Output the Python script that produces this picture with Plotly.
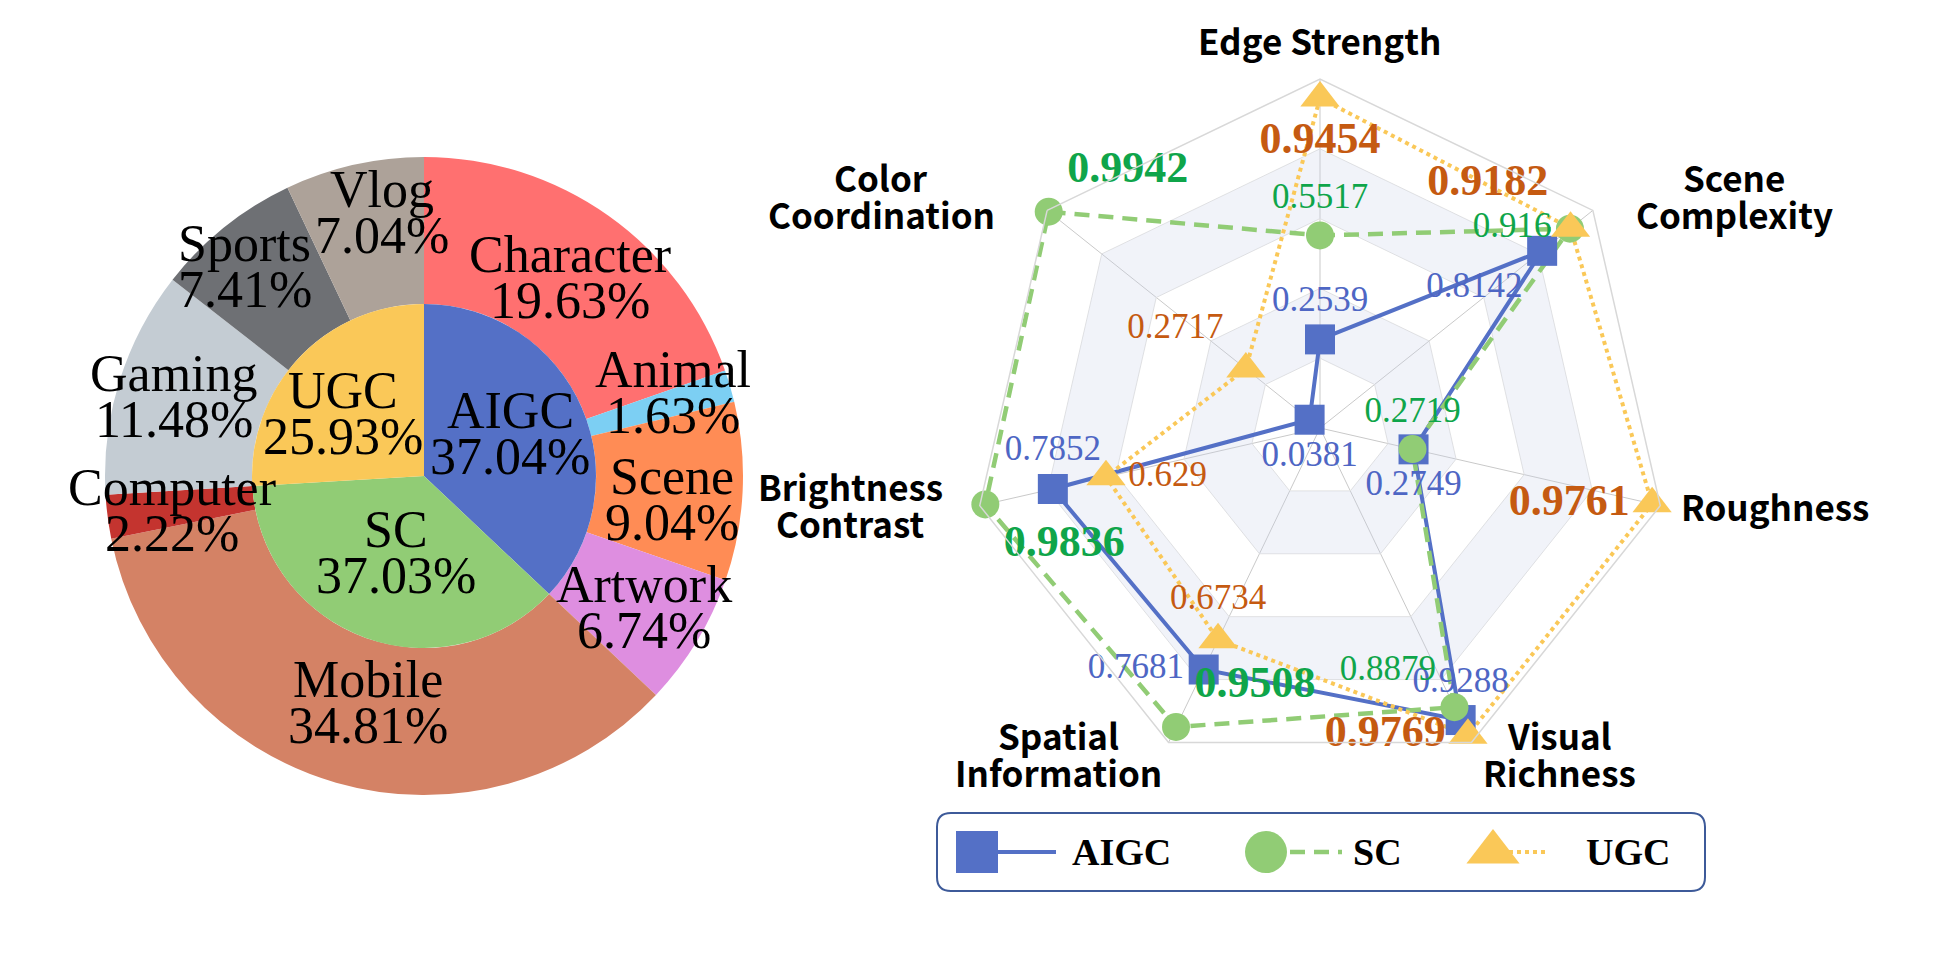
import math
import plotly.graph_objects as go

# ---------------- data ----------------
GROUPS = ["AIGC", "SC", "UGC"]
GROUP_PCT = [37.04, 37.03, 25.93]
GROUP_COLORS = ["#5470C6", "#91CC75", "#FAC858"]

SUBCATS = ["Character", "Animal", "Scene", "Artwork", "Mobile", "Computer", "Gaming", "Sports", "Vlog"]
SUBCAT_PCT = [19.63, 1.63, 9.04, 6.74, 34.81, 2.22, 11.48, 7.41, 7.04]
SUBCAT_COLORS = ["#FF7070", "#7CCFF3", "#FF8C55", "#DE8EE0", "#D48265",
                 "#C4342F", "#C4CCD3", "#6E7074", "#ADA299"]

METRICS = ["Edge Strength", "Scene Complexity", "Roughness", "Visual Richness",
           "Spatial Information", "Brightness Contrast", "Color Coordination"]
SERIES = ["AIGC", "SC", "UGC"]
AIGC_VALUES = [0.2539, 0.8142, 0.2749, 0.9288, 0.7681, 0.7852, 0.0381]
SC_VALUES = [0.5517, 0.916, 0.2719, 0.8879, 0.9508, 0.9836, 0.9942]
UGC_VALUES = [0.9454, 0.9182, 0.9761, 0.9769, 0.6734, 0.629, 0.2717]
RING_LEVELS = [0.2, 0.4, 0.6, 0.8, 1.0]

# ---------------- layout geometry / styles ----------------
W, H = 1940, 968
PIE_CX, PIE_CY, PIE_R, PIE_RIN = 424, 476, 319, 172
RAD_CX, RAD_CY, RAD_R = 1320, 428, 349
SERIF = "Liberation Serif, Times New Roman, serif"
SANS = "Noto Sans CJK SC, Noto Sans, sans-serif"

# small pixel nudges for pie labels (label placement styling)
PIE_NUDGE = {
    "Character": (-1, 10), "Animal": (4, -12), "Scene": (-7, 11), "Artwork": (2, -1),
    "Mobile": (14, -19), "Computer": (1, 2), "Gaming": (-7, -4), "Sports": (-20, -10),
    "Vlog": (14, -15), "AIGC": (-1, -5), "SC": (4, -13), "UGC": (-12, 3),
}


def px(x):
    return x / W


def py(y):
    return 1 - y / H


fig = go.Figure()
annotations = []

# ---------------- nested pie ----------------
fig.add_trace(go.Pie(
    labels=SUBCATS, values=SUBCAT_PCT, hole=PIE_RIN / PIE_R, sort=False,
    direction="clockwise", rotation=0, textinfo="none",
    marker=dict(colors=SUBCAT_COLORS, line=dict(width=0)),
    domain=dict(x=[px(PIE_CX - PIE_R), px(PIE_CX + PIE_R)],
                y=[py(PIE_CY + PIE_R), py(PIE_CY - PIE_R)]),
    showlegend=False, hoverinfo="label+percent"))
fig.add_trace(go.Pie(
    labels=GROUPS, values=GROUP_PCT, sort=False,
    direction="clockwise", rotation=0, textinfo="none",
    marker=dict(colors=GROUP_COLORS, line=dict(width=0)),
    domain=dict(x=[px(PIE_CX - PIE_RIN), px(PIE_CX + PIE_RIN)],
                y=[py(PIE_CY + PIE_RIN), py(PIE_CY - PIE_RIN)]),
    showlegend=False, hoverinfo="label+percent"))


def pie_labels(names, pcts, radius):
    total = sum(pcts)
    cum = 0.0
    for name, p in zip(names, pcts):
        mid = (cum + p / 2) / total * 2 * math.pi
        cum += p
        ndx, ndy = PIE_NUDGE.get(name, (0, 0))
        x = PIE_CX + radius * math.sin(mid) + ndx
        y = PIE_CY - radius * math.cos(mid) + ndy
        for txt, dy in ((name, -23), (f"{p:.2f}%", 23)):
            annotations.append(dict(
                x=px(x), y=py(y + dy), xref="paper", yref="paper",
                text=txt, showarrow=False, xanchor="center", yanchor="middle",
                font=dict(family=SERIF, size=52, color="black")))


pie_labels(SUBCATS, SUBCAT_PCT, 255)
pie_labels(GROUPS, GROUP_PCT, 95)

# ---------------- radar ----------------
closed_theta = METRICS + [METRICS[0]]

# alternating shaded bands
for i in range(len(RING_LEVELS) - 1):
    if i % 2 == 0:
        outer = RING_LEVELS[i + 1]
        inner = RING_LEVELS[i]
        fig.add_trace(go.Scatterpolar(
            r=[outer] * len(closed_theta) + [inner] * len(closed_theta),
            theta=closed_theta + closed_theta[::-1],
            mode="lines", fill="toself", fillcolor="rgba(200,210,232,0.26)",
            line=dict(width=0), hoverinfo="skip", showlegend=False))

series_vals = [AIGC_VALUES, SC_VALUES, UGC_VALUES]
line_colors = ["#5470C6", "#91CC75", "#FAC858"]
text_colors = ["#4E66C4", "#0FA54A", "#C55A11"]
dashes = ["solid", "15px,9px", "4px,4px"]
line_widths = [4, 4.5, 4]
symbols = ["square", "circle", "triangle-up"]
msizes = [30, 28, 34]
text_pos = [
    ["top center", "bottom left", "bottom center", "top center", "middle left", "top center", "bottom center"],
    ["top center", "middle left", "top center", "top left", "top right", "bottom right", "top right"],
    ["bottom center", "top left", "middle left", "middle left", "top center", "middle right", "top left"],
]
axis_max = [max(v[k] for v in series_vals) for k in range(len(METRICS))]

for s, vals in enumerate(series_vals):
    fig.add_trace(go.Scatterpolar(
        r=vals + [vals[0]], theta=closed_theta, mode="lines",
        line=dict(color=line_colors[s], width=line_widths[s], dash=dashes[s]),
        hoverinfo="skip", showlegend=False))
for s, vals in enumerate(series_vals):
    texts, sizes = [], []
    for k, v in enumerate(vals):
        if v == axis_max[k]:
            texts.append(f"<b>{v:g}</b>")
            sizes.append(44)
        else:
            texts.append(f"{v:g}")
            sizes.append(35)
    fig.add_trace(go.Scatterpolar(
        r=vals, theta=METRICS, mode="markers+text",
        marker=dict(symbol=symbols[s], size=msizes[s], color=line_colors[s], line=dict(width=0)),
        text=texts, textposition=text_pos[s],
        textfont=dict(family=SERIF, size=sizes, color=text_colors[s]),
        name=SERIES[s], showlegend=False, cliponaxis=False))

fig.update_layout(polar=dict(
    domain=dict(x=[px(RAD_CX - RAD_R), px(RAD_CX + RAD_R)],
                y=[py(RAD_CY + RAD_R), py(RAD_CY - RAD_R)]),
    bgcolor="rgba(0,0,0,0)", gridshape="linear",
    radialaxis=dict(range=[0, 1], tickvals=RING_LEVELS, showticklabels=False, ticks="",
                    showline=False, gridcolor="#E3E3E3", gridwidth=1),
    angularaxis=dict(type="category", categoryarray=METRICS, rotation=90, direction="clockwise",
                     showticklabels=False, ticks="", showline=True, linecolor="#D8D8D8",
                     linewidth=1.5, gridcolor="#C9C9C9", gridwidth=1),
))

# axis name labels (placed around the radar)
axis_label_pos = [(1319, 40), (1734, 195), (1775, 505), (1559, 753),
                  (1058, 753), (850, 504), (881, 195)]
for name, (lx, ly) in zip(METRICS, axis_label_pos):
    lines = [name] if name == "Edge Strength" else name.split(" ")
    n = len(lines)
    for j, ln in enumerate(lines):
        yy = ly + (j - (n - 1) / 2) * 37
        annotations.append(dict(
            x=px(lx), y=py(yy), xref="paper", yref="paper", text=f"<b>{ln}</b>",
            showarrow=False, xanchor="center", yanchor="middle",
            font=dict(family=SANS, size=35, color="black")))

# ---------------- custom legend ----------------
LX0, LX1, LY0, LY1 = 937, 1705, 813, 891
PAD = 10
bw, bh = LX1 - LX0, LY1 - LY0
fig.update_layout(
    xaxis=dict(domain=[px(LX0 - PAD), px(LX1 + PAD)], range=[-PAD, bw + PAD], visible=False, fixedrange=True),
    yaxis=dict(domain=[py(LY1 + PAD), py(LY0 - PAD)], range=[-PAD, bh + PAD], visible=False, fixedrange=True),
)
rr = 14
path = (f"M {rr},0 L {bw - rr},0 Q {bw},0 {bw},{rr} L {bw},{bh - rr} Q {bw},{bh} {bw - rr},{bh} "
        f"L {rr},{bh} Q 0,{bh} 0,{bh - rr} L 0,{rr} Q 0,0 {rr},0 Z")
shapes = [dict(type="path", xref="x", yref="y", path=path,
               line=dict(color="#3D5A99", width=2), fillcolor="rgba(0,0,0,0)")]
leg_items = [(40, 119, 133), (329, 405, 414), (556, 611, 647)]
yc = bh / 2
for s, (mx, lend, tx) in enumerate(leg_items):
    fig.add_trace(go.Scatter(x=[mx, lend], y=[yc, yc], mode="lines",
                             line=dict(color=line_colors[s], width=line_widths[s], dash=dashes[s]),
                             hoverinfo="skip", showlegend=False, xaxis="x", yaxis="y"))
    fig.add_trace(go.Scatter(x=[mx], y=[yc], mode="markers",
                             marker=dict(symbol=symbols[s], size=[42, 42, 46][s], color=line_colors[s],
                                         line=dict(width=0)),
                             hoverinfo="skip", showlegend=False, xaxis="x", yaxis="y", cliponaxis=False))
    annotations.append(dict(x=tx, y=yc, xref="x", yref="y", text=f"<b>{SERIES[s]}</b>",
                            showarrow=False, xanchor="left", yanchor="middle",
                            font=dict(family=SERIF, size=38, color="black")))

fig.update_layout(
    width=W, height=H, margin=dict(l=0, r=0, t=0, b=0),
    paper_bgcolor="white", plot_bgcolor="rgba(0,0,0,0)",
    showlegend=False, annotations=annotations, shapes=shapes,
)

fig.write_html("out.html", config={"displayModeBar": False},
               post_script="document.body.style.margin='0';")
